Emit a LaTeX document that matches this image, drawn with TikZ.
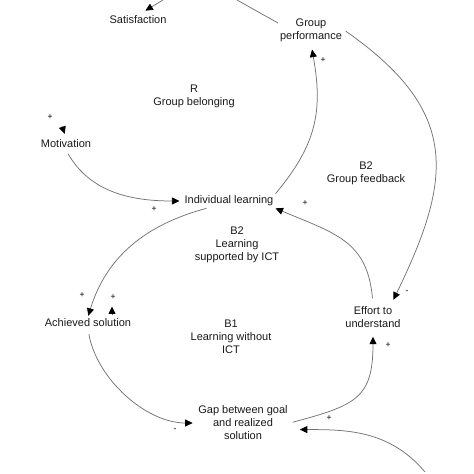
\documentclass[tikz,border=0pt]{standalone}
\usepackage{fontspec}
\setmainfont{Liberation Sans}
\usetikzlibrary{calc,arrows.meta,positioning}

\begin{document}
\begin{tikzpicture}
    [x=1pt,y=1pt,font=\fontsize{11}{13}\selectfont,
     var/.style={align=center,inner sep=2pt,text=black!90},
     looplab/.style={align=center,inner sep=2pt,text=black!90},
     polarity/.style={font=\fontsize{8.5}{8.5}\selectfont,inner sep=0pt},
     wire/.style={draw=black!55,line width=0.75pt},
     link/.style={wire,-{Triangle[length=7.5pt,width=7pt,color=black]}}]
    \useasboundingbox (0,0) rectangle (474,474);

    \node[var] (sat) at (138,454) {Satisfaction};
    \node[var] (gperf) at (311,444) {Group\\performance};
    \node[var] (motiv) at (66,330) {Motivation};
    \node[var] (indiv) at (229,273) {Individual learning};
    \node[var] (achiev) at (88,151) {Achieved solution};
    \node[var] (effort) at (373,157) {Effort to\\understand};
    \node[var] (gap) at (243,51) {Gap between goal\\and realized\\solution};

    \node[looplab] (rloop) at (194,378) {R\\Group belonging};
    \node[looplab] (fbloop) at (366,301) {B2\\Group feedback};
    \node[looplab] (ictloop) at (237,229) {B2\\Learning\\supported by ICT};
    \node[looplab] (noictloop) at (231,137) {B1\\Learning without\\ICT};

    \coordinate (satin) at (163,474);
    \coordinate (perfout) at (237,474);
    \coordinate (motin) at (62,348);
    \coordinate (achup) at (112,167.5);
    \coordinate (gapin) at (425,2);

    \draw[link,shorten <=4pt,shorten >=3pt] (motiv.south) to[out=-60,in=180] (indiv.west);
    \draw[link,looseness=1.1,shorten >=6pt] (indiv.north east) to[out=50,in=-80] (gperf.south);
    \draw[link,looseness=1.3,shorten <=2pt,shorten >=5pt] (gperf.east) to[out=-35,in=64] (effort.35);
    \draw[link,looseness=1.2,shorten <=6pt] (effort.north) to[out=95,in=-23] (indiv.south east);
    \draw[link,shorten >=1pt] (indiv.198) to[out=195,in=73] (achiev.north);
    \draw[link,looseness=0.9,shorten <=5pt,shorten >=3.5pt] (achiev.south) to[out=-80,in=180] (gap.west);
    \draw[link,looseness=1.4,shorten <=3pt,shorten >=7pt] (gap.east) to[out=15,in=-90] (effort.south);
    \draw[link,shorten >=10pt] (gapin) to[out=130,in=0] (gap.-8);
    \draw[link,shorten >=6pt] (satin) -- (sat.70);
    \draw[wire] (gperf.168) -- (perfout);
    \draw[link,shorten >=4pt] (motin) -- (motiv.north);
    \draw[link,shorten <=2.5pt] (achiev.north -| achup) -- (achup);

    \foreach \px/\py/\s [count=\i] in {50/357/+,154/265/+,323/414/+,305/271/+,407/182/-,
      82/179/+,113/177/+,175/44/-,388/129/+,329/56/+} {
      \node[polarity] (pol\i) at (\px,\py) {\s};
    }
\end{tikzpicture}
\end{document}
